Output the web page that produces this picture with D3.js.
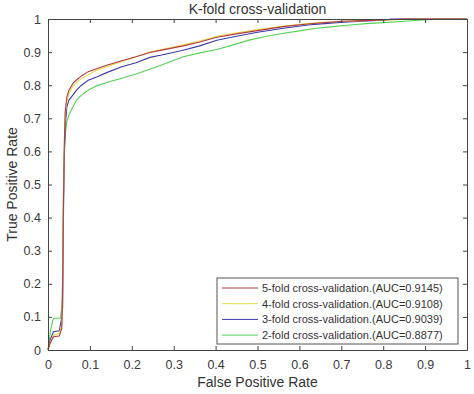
<!DOCTYPE html>
<html>
<head>
<meta charset="utf-8">
<script src="https://cdn.jsdelivr.net/npm/d3@7"></script>
<style>
  body { margin: 0; background: #fff; }
  svg text { font-family: "Liberation Sans", Arial, sans-serif; fill: #333; }
  .axis path, .axis line { stroke: #444; }
  .axis text { font-size: 12.5px; fill: #3a3a3a; }
</style>
</head>
<body>
<div id="chart"></div>
<script>
// ROC curves (false positive rate / true positive rate)
var fpr5 = [0, 0.005, 0.013, 0.027, 0.033, 0.035, 0.037, 0.039, 0.041, 0.045, 0.05, 0.06, 0.07, 0.08, 0.096, 0.116, 0.14, 0.176, 0.21, 0.243, 0.271, 0.32, 0.36, 0.403, 0.45, 0.5, 0.562, 0.62, 0.66, 0.705, 0.75, 0.8, 0.85, 0.9, 1];
var tpr5 = [0, 0.02, 0.04, 0.042, 0.065, 0.2, 0.45, 0.62, 0.72, 0.765, 0.785, 0.806, 0.818, 0.828, 0.841, 0.85, 0.86, 0.874, 0.886, 0.899, 0.906, 0.918, 0.93, 0.945, 0.955, 0.965, 0.977, 0.985, 0.989, 0.993, 0.995, 0.997, 1, 1, 1];

var fpr4 = [0, 0.006, 0.013, 0.027, 0.033, 0.035, 0.037, 0.039, 0.041, 0.045, 0.05, 0.06, 0.07, 0.08, 0.096, 0.116, 0.14, 0.176, 0.21, 0.243, 0.271, 0.32, 0.36, 0.403, 0.45, 0.5, 0.562, 0.62, 0.66, 0.705, 0.75, 0.8, 0.85, 0.9, 1];
var tpr4 = [0, 0.025, 0.045, 0.05, 0.075, 0.22, 0.47, 0.63, 0.71, 0.75, 0.775, 0.797, 0.81, 0.82, 0.832, 0.845, 0.856, 0.872, 0.886, 0.9, 0.908, 0.921, 0.933, 0.948, 0.958, 0.968, 0.979, 0.986, 0.99, 0.993, 0.995, 0.997, 0.999, 1, 1];

var fpr3 = [0, 0.005, 0.013, 0.027, 0.033, 0.035, 0.037, 0.039, 0.042, 0.045, 0.05, 0.058, 0.068, 0.08, 0.096, 0.116, 0.14, 0.176, 0.21, 0.243, 0.271, 0.32, 0.36, 0.403, 0.45, 0.5, 0.562, 0.62, 0.66, 0.705, 0.75, 0.8, 0.82, 0.9, 1];
var tpr3 = [0, 0.03, 0.055, 0.058, 0.1, 0.13, 0.42, 0.6, 0.69, 0.735, 0.755, 0.768, 0.785, 0.8, 0.815, 0.825, 0.838, 0.856, 0.868, 0.884, 0.891, 0.905, 0.918, 0.936, 0.948, 0.96, 0.972, 0.982, 0.986, 0.99, 0.993, 0.996, 1, 1, 1];

var fpr2 = [0, 0.006, 0.013, 0.03, 0.034, 0.036, 0.038, 0.041, 0.045, 0.05, 0.058, 0.068, 0.08, 0.096, 0.116, 0.14, 0.176, 0.21, 0.243, 0.271, 0.323, 0.36, 0.403, 0.44, 0.482, 0.52, 0.562, 0.6, 0.641, 0.68, 0.721, 0.76, 0.8, 0.85, 0.895, 0.92, 1];
var tpr2 = [0, 0.06, 0.096, 0.096, 0.15, 0.4, 0.56, 0.65, 0.69, 0.71, 0.73, 0.755, 0.77, 0.785, 0.798, 0.808, 0.821, 0.834, 0.848, 0.861, 0.886, 0.897, 0.908, 0.921, 0.937, 0.947, 0.957, 0.964, 0.972, 0.977, 0.982, 0.986, 0.989, 0.993, 0.997, 1, 1];

var seriesNames = ["5-fold cross-validation.(AUC=0.9145)", "4-fold cross-validation.(AUC=0.9108)",
                   "3-fold cross-validation.(AUC=0.9039)", "2-fold cross-validation.(AUC=0.8877)"];
var seriesColors = ["#b03a48", "#e8d848", "#3a3aa8", "#55d055"];
var xTicks = [0, 0.1, 0.2, 0.3, 0.4, 0.5, 0.6, 0.7, 0.8, 0.9, 1];
var yTicks = [0, 0.1, 0.2, 0.3, 0.4, 0.5, 0.6, 0.7, 0.8, 0.9, 1];

var series = [[fpr5, tpr5], [fpr4, tpr4], [fpr3, tpr3], [fpr2, tpr2]].map(function(s, i) {
    return {
        name: seriesNames[i],
        color: seriesColors[i],
        values: s[0].map(function(f, j) { return { x: f, y: s[1][j] }; })
    };
});

var W = 474, H = 394;
var margin = { top: 19, right: 7, bottom: 44, left: 48 },
    width = W - margin.left - margin.right,
    height = H - margin.top - margin.bottom;

var svg = d3.select("#chart").append("svg")
    .attr("width", W)
    .attr("height", H);

var g = svg.append("g")
    .attr("transform", "translate(" + margin.left + "," + margin.top + ")");

var x = d3.scaleLinear().domain([0, 1]).range([0, width]);
var y = d3.scaleLinear().domain([0, 1]).range([height, 0]);

var fmt = function(d) { return d === 0 || d === 1 ? String(d) : d3.format(".1f")(d); };

// curves (drawn first so the axes sit on top)
var line = d3.line()
    .x(function(d) { return x(d.x); })
    .y(function(d) { return y(d.y); });

// draw in reverse so 5-fold ends up on top
series.slice().reverse().forEach(function(s) {
    g.append("path")
        .datum(s.values)
        .attr("fill", "none")
        .attr("stroke", s.color)
        .attr("stroke-width", 1.1)
        .attr("d", line);
});

// axes, MATLAB style: box on, ticks pointing inward
g.append("g")
    .attr("class", "axis")
    .attr("transform", "translate(0," + height + ")")
    .call(d3.axisBottom(x).tickValues(xTicks).tickFormat(fmt).tickSizeInner(-4).tickSizeOuter(0).tickPadding(10));

g.append("g")
    .attr("class", "axis")
    .call(d3.axisLeft(y).tickValues(yTicks).tickFormat(fmt).tickSizeInner(-4).tickSizeOuter(0).tickPadding(7));

g.append("g")
    .attr("class", "axis")
    .call(d3.axisTop(x).tickValues(xTicks).tickFormat("").tickSizeInner(-4).tickSizeOuter(0));

g.append("g")
    .attr("class", "axis")
    .attr("transform", "translate(" + width + ",0)")
    .call(d3.axisRight(y).tickValues(yTicks).tickFormat("").tickSizeInner(-4).tickSizeOuter(0));

g.selectAll(".axis .domain").attr("stroke", "#555");

// title and axis labels
svg.append("text")
    .attr("x", margin.left + width / 2)
    .attr("y", 14)
    .attr("text-anchor", "middle")
    .style("font-size", "14px")
    .text("K-fold cross-validation");

svg.append("text")
    .attr("x", margin.left + width / 2)
    .attr("y", 387)
    .attr("text-anchor", "middle")
    .style("font-size", "14px")
    .text("False Positive Rate");

svg.append("text")
    .attr("transform", "translate(17," + (margin.top + height / 2) + ") rotate(-90)")
    .attr("text-anchor", "middle")
    .style("font-size", "14px")
    .text("True Positive Rate");

// legend
var legend = svg.append("g").attr("transform", "translate(217,278)");
legend.append("rect")
    .attr("width", 241)
    .attr("height", 66)
    .attr("fill", "#fff")
    .attr("stroke", "#555")
    .attr("stroke-width", 1);

var rows = legend.selectAll(".row")
    .data(series)
    .enter().append("g")
    .attr("transform", function(d, i) { return "translate(0," + (10 + i * 15.7) + ")"; });

rows.append("line")
    .attr("x1", 5).attr("x2", 41)
    .attr("y1", 0).attr("y2", 0)
    .attr("stroke", function(d) { return d.color; })
    .attr("stroke-width", 1);

rows.append("text")
    .attr("x", 45)
    .attr("y", 4)
    .style("font-size", "11px")
    .text(function(d) { return d.name; });
</script>
</body>
</html>
